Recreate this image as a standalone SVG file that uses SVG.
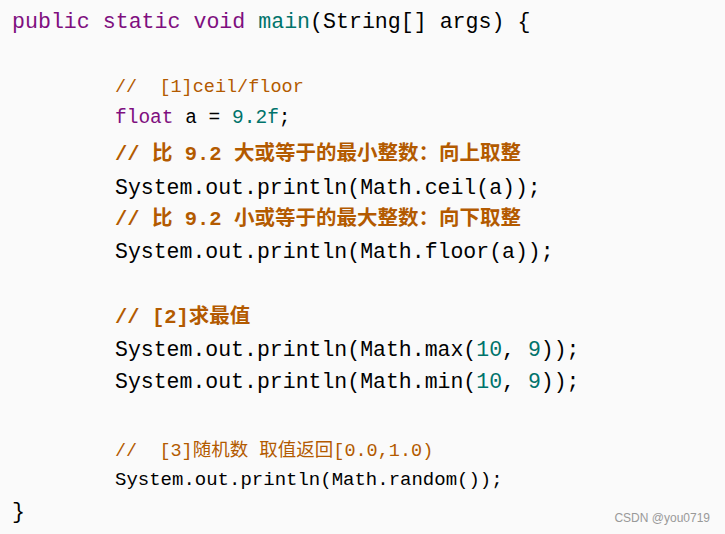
<svg xmlns="http://www.w3.org/2000/svg" width="725" height="534" viewBox="0 0 725 534">
<style>
.c{font-family:"Liberation Mono","DejaVu Sans Mono","Noto Sans CJK SC",monospace;fill:#000;white-space:pre}
.k{fill:#7f0f7f}
.t{fill:#00736b}
.cm{fill:#b35a00;font-weight:bold}
</style>
<rect width="725" height="534" fill="#fafafa"/>
<text class="c" x="12" y="28" font-size="21.6"><tspan class="k">public static void </tspan><tspan class="t">main</tspan>(String[] args) {</text>
<text class="c cm" x="115" y="92" font-size="18.5" style="font-weight:normal" xml:space="preserve">//  [1]ceil/floor</text>
<text class="c" x="115" y="123" font-size="19.5"><tspan class="k">float</tspan> a = <tspan class="t">9.2f</tspan>;</text>
<text class="c cm" x="115" y="160" font-size="20.5">// 比 9.2 大或等于的最小整数：向上取整</text>
<text class="c" x="115" y="194" font-size="21.5">System.out.println(Math.ceil(a));</text>
<text class="c cm" x="115" y="225" font-size="20.5">// 比 9.2 小或等于的最大整数：向下取整</text>
<text class="c" x="115" y="258" font-size="21.5">System.out.println(Math.floor(a));</text>
<text class="c cm" x="115" y="323" font-size="20.5">// [2]求最值</text>
<text class="c" x="115" y="356" font-size="21.5">System.out.println(Math.max(<tspan class="t">10</tspan>, <tspan class="t">9</tspan>));</text>
<text class="c" x="115" y="388" font-size="21.5">System.out.println(Math.min(<tspan class="t">10</tspan>, <tspan class="t">9</tspan>));</text>
<text class="c cm" x="115" y="456" font-size="18.5" style="font-weight:normal" xml:space="preserve">//  [3]随机数 取值返回[0.0,1.0)</text>
<text class="c" x="115" y="485" font-size="19">System.out.println(Math.random());</text>
<text class="c" x="12" y="518" font-size="21.6">}</text>
<text x="710" y="522" text-anchor="end" font-family="Liberation Sans,sans-serif" font-size="12" fill="#999">CSDN @you0719</text>
</svg>
